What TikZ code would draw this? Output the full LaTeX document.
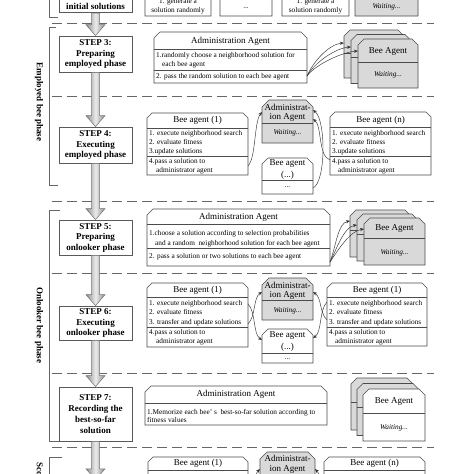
\documentclass[tikz,border=0pt]{standalone}
\usepackage{fontspec}
\setmainfont{Liberation Serif}
\usetikzlibrary{arrows.meta,fit,calc}
\newcommand\agbox[7]{%
  \path[boxline, fill=#7] (#2+#6,#3) -- (#4-#6,#3) -- (#4,#3+#6) -- (#4,#5) -- (#2,#5) -- (#2,#3+#6) -- cycle;
  \node[fit={(#2,#3) (#4,#5)}, inner sep=0pt, outer sep=0pt] (#1) {};}
\newcommand\agsep[2]{\draw[boxline] (#1.west |- 0,#2) -- (#1.east |- 0,#2);}
\newcommand\tline[4]{\node[itm] (#1) at (#2,#3) {#4};}
\newcommand\bigarrow[2]{%
  \path[bigarr] let \p1=(#1.south), \p2=(#2.north) in
   (\x1-4pt,\y1) -- (\x1+4pt,\y1) -- (\x1+4pt,\y2+11pt) -- (\x1+9.5pt,\y2+11pt) -- (\x1,\y2) -- (\x1-9.5pt,\y2+11pt) -- (\x1-4pt,\y2+11pt) -- cycle;}
\begin{document}
\begin{tikzpicture}[x=1pt,y=-1pt,
  boxline/.style={draw=black!70, line width=0.55pt},
  stepbox/.style={draw=black!65, line width=0.7pt, fill=white, inner sep=0pt, align=center, font=\bfseries\fontsize{9}{10.5}\selectfont},
  ttl/.style={inner sep=0pt, font=\fontsize{9}{10}\selectfont},
  itm/.style={inner sep=0pt, anchor=base west, font=\fontsize{7.3}{8}\selectfont},
  itmc/.style={inner sep=0pt, font=\fontsize{7.3}{8}\selectfont},
  wait/.style={inner sep=0pt, font=\itshape\fontsize{7.3}{8}\selectfont},
  dashln/.style={draw=black!60, line width=1pt, dash pattern=on 10pt off 5pt},
  brk/.style={draw=black!60, line width=0.7pt},
  arr/.style={-{Stealth[length=4pt,width=3.2pt]}, draw=black!80, line width=0.45pt},
  bigarr/.style={left color=black!45, right color=black!45, middle color=black!8, draw=black!55, line width=0.5pt},
  phase/.style={font=\bfseries\fontsize{9}{10}\selectfont, rotate=-90, inner sep=0pt},
]
\useasboundingbox (0,0) rectangle (474,474);
\clip (0,0) rectangle (474,474);
\fill[white] (0,0) rectangle (474,474);

% dashed separators
\foreach \yy in {23,96,201,273,373,447} \draw[dashln] (52,\yy) -- (434,\yy);

% phase brackets
\draw[brk] (58,17) -- (49,17) -- (49,-2);
\draw[brk] (56,27) -- (49,27) -- (49,185) -- (58,185);
\draw[brk] (60,210) -- (49,210) -- (49,441) -- (59,441);
\draw[brk] (62,457) -- (49,457) -- (49,480);
\node[phase] (ph1) at (39,102) {Employed bee phase};
\node[phase] (ph2) at (39,325) {Onlooker bee phase};
\node[phase, anchor=west] (ph3) at (39,462) {Scout bee phase};

% step boxes
\node[stepbox, minimum width=73pt, minimum height=45pt, anchor=south] (s2) at (95.5,13) {};
\node[inner sep=0pt, font=\bfseries\fontsize{9}{10}\selectfont] (s2t) at (95.5,6) {initial solutions};
\node[stepbox, minimum width=73pt, minimum height=36pt] (s3) at (95.5,54) {STEP 3:\\Preparing\\employed phase};
\node[stepbox, minimum width=73pt, minimum height=36pt] (s4) at (95.5,145) {STEP 4:\\Executing\\employed phase};
\node[stepbox, minimum width=73pt, minimum height=35pt] (s5) at (95.5,237.5) {STEP 5:\\Preparing\\onlooker phase};
\node[stepbox, minimum width=73pt, minimum height=34pt] (s6) at (95.5,323) {STEP 6:\\Executing\\onlooker phase};
\node[stepbox, minimum width=73pt, minimum height=54pt, font=\bfseries\fontsize{9}{11}\selectfont] (s7) at (95.5,414) {STEP 7:\\Recording the\\best-so-far\\solution};
\node[inner sep=0pt, minimum size=0pt] (s8) at (95.5,480) {};
\bigarrow{s2}{s3}
\bigarrow{s3}{s4}
\bigarrow{s4}{s5}
\bigarrow{s5}{s6}
\bigarrow{s6}{s7}
\bigarrow{s7}{s8}

% ---------- top row (initialisation) ----------
\agbox{a2a}{145}{-10}{211}{16}{5}{white}
\node[itmc] (a2a1) at (178,2) {1. generate a};
\node[itmc] (a2a2) at (178,10.5) {solution randomly};
\agbox{a2b}{220}{-10}{272}{16}{5}{white}
\node[itmc] (a2b1) at (246,8) {...};
\agbox{a2c}{282}{-10}{349}{16}{5}{white}
\node[itmc] (a2c1) at (315.5,2) {1. generate a};
\node[itmc] (a2c2) at (315.5,10.5) {solution randomly};
\agbox{a2d}{355}{-10}{418}{16}{5}{black!15}
\node[wait] (a2d1) at (386.5,7) {Waiting...};

% ---------- step 3 ----------
\agbox{ad3}{154}{32}{307}{83}{6}{white}
\agsep{ad3}{49} \agsep{ad3}{70}
\node[ttl] (ad3t) at (230.5,41.5) {Administration Agent};
\tline{ad3a}{156}{57.5}{1.randomly choose a neighborhood solution for}
\tline{ad3b}{162}{66.5}{each bee agent}
\tline{ad3c}{156}{78.5}{2. pass the random solution to each bee agent}
\agbox{st3a}{344}{30}{404}{78}{6}{black!15} \agsep{st3a}{53}
\agbox{st3b}{351}{34.5}{411}{83.5}{6}{black!15} \agsep{st3b}{57.5}
\agbox{st3c}{358}{39}{418}{88}{6}{black!15} \agsep{st3c}{62}
\node[ttl] (st3t) at (388,51) {Bee Agent};
\node[wait] (st3w) at (388,74.5) {Waiting...};
\draw[arr] (ad3.east |- 0,76) .. controls (314,60) and (330,44) .. (st3a.west |- 0,43);
\draw[arr] (ad3.east |- 0,76) .. controls (315,62) and (336,48) .. (st3b.west |- 0,47);
\draw[arr] (ad3.east |- 0,76) .. controls (316,64) and (343,52) .. (st3c.west |- 0,51);

% ---------- step 4 ----------
\agbox{b41}{147}{113}{248}{175}{5}{white}
\agsep{b41}{128} \agsep{b41}{156}
\node[ttl] (b41t) at (197.5,120.5) {Bee agent (1)};
\tline{b41a}{149}{135.5}{1. execute neighborhood search}
\tline{b41b}{149}{144.5}{2. evaluate fitness}
\tline{b41c}{149}{153.5}{3.update solutions}
\tline{b41d}{149}{163.5}{4.pass a solution to}
\tline{b41e}{156}{172.5}{administrator agent}
\agbox{ad4}{262}{100}{313}{143}{7}{black!15}
\agsep{ad4}{123}
\node[ttl] (ad4t1) at (287.5,107) {Administrat-};
\node[ttl] (ad4t2) at (287.5,117.5) {ion Agent};
\node[wait] (ad4w) at (287.5,133) {Waiting...};
\agbox{bd4}{262}{158}{313}{194}{6}{white}
\agsep{bd4}{180}
\node[ttl] (bd4t1) at (287.5,164) {Bee agent};
\node[ttl] (bd4t2) at (287.5,175) {(...)};
\node[itmc] (bd4t3) at (287.5,187) {...};
\agbox{bn4}{330}{112}{431}{175}{5}{white}
\agsep{bn4}{127} \agsep{bn4}{156}
\node[ttl] (bn4t) at (380.5,120) {Bee agent (n)};
\tline{bn4a}{332}{135.5}{1. execute neighborhood search}
\tline{bn4b}{332}{144.5}{2. evaluate fitness}
\tline{bn4c}{332}{153.5}{3.update solutions}
\tline{bn4d}{332}{163.5}{4.pass a solution to}
\tline{bn4e}{338}{172.5}{administrator agent}
\draw[arr] (b41.east |- 0,166) .. controls (256,158) and (254,122) .. (ad4.west |- 0,112);
\draw[arr] (bd4.east |- 0,188) .. controls (326,182) and (326,120) .. (ad4.east |- 0,110);
\draw[arr] (bn4.west |- 0,160) .. controls (318,156) and (322,126) .. (ad4.east |- 0,119);

% ---------- step 5 ----------
\agbox{ad5}{147}{209}{330}{266}{6}{white}
\agsep{ad5}{224} \agsep{ad5}{248}
\node[ttl] (ad5t) at (238.5,217) {Administration Agent};
\tline{ad5a}{149}{235.5}{1.choose a solution according to selection probabilities}
\tline{ad5b}{155}{245}{and a random\ \ neighborhood solution for each bee agent}
\tline{ad5c}{149}{258.5}{2. pass a solution or two solutions to each bee agent}
\agbox{st5a}{350}{210}{411}{257}{6}{black!15} \agsep{st5a}{230}
\agbox{st5b}{357}{214}{418}{261}{6}{black!15} \agsep{st5b}{234}
\agbox{st5c}{364}{218}{425}{265}{6}{black!15} \agsep{st5c}{238}
\node[ttl] (st5t) at (394.5,228) {Bee Agent};
\node[wait] (st5w) at (394.5,253) {Waiting...};
\draw[arr] (ad5.east |- 0,262) .. controls (336,246) and (338,223) .. (st5a.west |- 0,221);
\draw[arr] (ad5.east |- 0,262) .. controls (337,248) and (344,227) .. (st5b.west |- 0,225);
\draw[arr] (ad5.east |- 0,262) .. controls (338,250) and (350,231) .. (st5c.west |- 0,229);

% ---------- step 6 ----------
\agbox{b61}{147}{283}{248}{347}{5}{white}
\agsep{b61}{297} \agsep{b61}{327.5}
\node[ttl] (b61t) at (197.5,290.5) {Bee agent (1)};
\tline{b61a}{149}{305.5}{1. execute neighborhood search}
\tline{b61b}{149}{314.8}{2. evaluate fitness}
\tline{b61c}{149}{324}{3. transfer and update solutions}
\tline{b61d}{149}{334.5}{4.pass a solution to}
\tline{b61e}{156}{343.5}{administrator agent}
\agbox{ad6}{262}{278}{313}{320}{7}{black!15}
\agsep{ad6}{300}
\node[ttl] (ad6t1) at (287.5,285) {Administrat-};
\node[ttl] (ad6t2) at (287.5,295) {ion Agent};
\node[wait] (ad6w) at (287.5,311) {Waiting...};
\agbox{bd6}{262}{329}{313}{363}{6}{white}
\agsep{bd6}{353}
\node[ttl] (bd6t1) at (287.5,336) {Bee agent};
\node[ttl] (bd6t2) at (287.5,347) {(...)};
\node[itmc] (bd6t3) at (287.5,359) {...};
\agbox{b6r}{327}{283}{427}{346}{5}{white}
\agsep{b6r}{297} \agsep{b6r}{327.5}
\node[ttl] (b6rt) at (377,290.5) {Bee agent (1)};
\tline{b6ra}{329}{305.5}{1. execute neighborhood search}
\tline{b6rb}{329}{314.8}{2. evaluate fitness}
\tline{b6rc}{329}{324}{3. transfer and update solutions}
\tline{b6rd}{329}{334.5}{4.pass a solution to}
\tline{b6re}{335}{343.5}{administrator agent}
\draw[arr] (b61.east |- 0,324) .. controls (256,316) and (253,298) .. (ad6.west |- 0,292);
\draw[arr] (b61.east |- 0,304) .. controls (256,312) and (253,334) .. (bd6.west |- 0,340);
\draw[arr] (b6r.west |- 0,320) .. controls (319,312) and (322,298) .. (ad6.east |- 0,292);
\draw[arr] (b6r.west |- 0,302) .. controls (319,310) and (322,332) .. (bd6.east |- 0,338);

% ---------- step 7 ----------
\agbox{ad7}{145}{386}{327}{425}{6}{white}
\agsep{ad7}{403}
\node[ttl] (ad7t) at (236,394.5) {Administration Agent};
\tline{ad7a}{147}{414}{1.Memorize each bee’ s\ \ best-so-far solution according to}
\tline{ad7b}{147}{422.5}{fitness values}
\agbox{st7a}{351}{378}{413}{430}{6}{black!15} \agsep{st7a}{402}
\agbox{st7b}{357}{383.5}{419}{435.5}{6}{black!15} \agsep{st7b}{407.5}
\agbox{st7c}{363}{389}{425}{441}{6}{white} \agsep{st7c}{413}
\node[ttl] (st7t) at (394,401.5) {Bee Agent};
\node[wait] (st7w) at (394,428) {Waiting...};

% ---------- bottom (scout) ----------
\agbox{b81}{148}{457}{248}{520}{5}{white}
\agsep{b81}{470}
\node[ttl] (b81t) at (198,463) {Bee agent (1)};
\agbox{ad8}{260}{452}{315}{520}{7}{black!15}
\node[ttl] (ad8t1) at (287.5,458.5) {Administrat-};
\node[ttl] (ad8t2) at (287.5,469) {ion Agent};
\agbox{b8n}{324}{457}{425}{520}{5}{white}
\agsep{b8n}{470}
\node[ttl] (b8nt) at (374.5,463) {Bee agent (n)};
\draw[arr] (b81.east |- 0,498) .. controls (257,490) and (253,476) .. (ad8.west |- 0,469);
\draw[arr] (b8n.west |- 0,498) .. controls (318,490) and (322,476) .. (ad8.east |- 0,469);
\end{tikzpicture}
\end{document}
